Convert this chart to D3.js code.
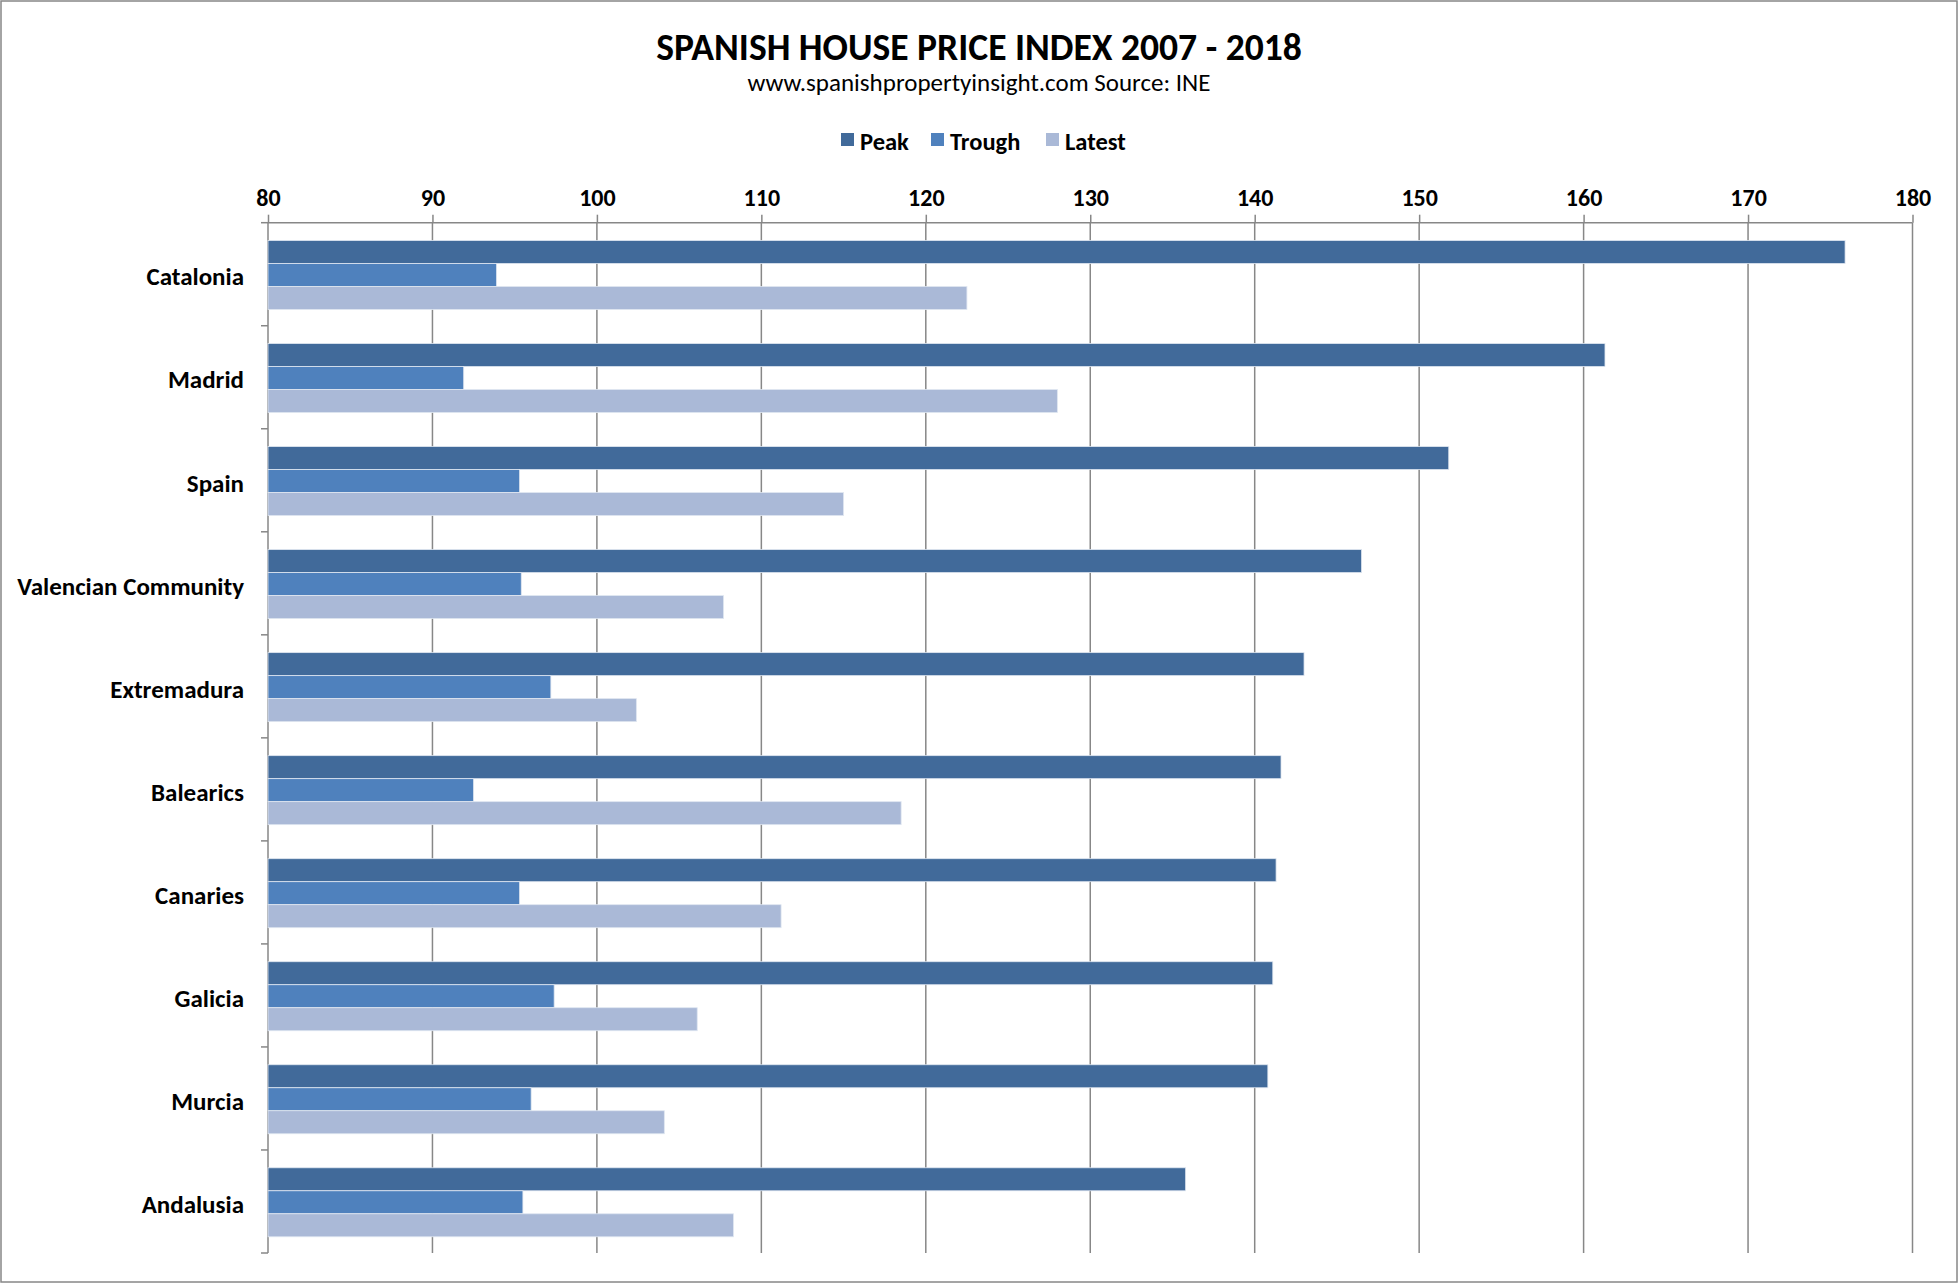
<!DOCTYPE html>
<html><head><meta charset="utf-8">
<script src="https://cdn.jsdelivr.net/npm/d3@7"></script>
<style>
html,body{margin:0;padding:0;background:#fff;}
svg{display:block;}
text{font-family:Carlito, Calibri, Lato, "Open Sans", sans-serif;}
</style></head>
<body>
<script>
const categories = ["Catalonia","Madrid","Spain","Valencian Community","Extremadura","Balearics","Canaries","Galicia","Murcia","Andalusia"];
const series = ["Peak","Trough","Latest"];
const peak   = [175.9,161.3,151.8,146.5,143.0,141.6,141.3,141.1,140.8,135.8];
const trough = [93.9, 91.9, 95.3, 95.4, 97.2, 92.5, 95.3, 97.4, 96.0, 95.5];
const latest = [122.5,128.0,115.0,107.7,102.4,118.5,111.2,106.1,104.1,108.3];
const xTicks = [80,90,100,110,120,130,140,150,160,170,180];
const colors = {Peak:"#416A9A", Trough:"#4F81BD", Latest:"#AAB9D7"};
const title = "SPANISH HOUSE PRICE INDEX 2007 - 2018";
const subtitle = "www.spanishpropertyinsight.com Source: INE";

(function(){
const W = 1959, H = 1284;
const svg = d3.select("body").append("svg").attr("width", W).attr("height", H);

svg.append("rect").attr("x",1).attr("y",1).attr("width",1956).attr("height",1281)
  .attr("fill","#fff").attr("stroke","#878787").attr("stroke-width",1.5);

const pL = 268, pR = 1912.5, pT = 222.7, pB = 1253;
const x = d3.scaleLinear().domain([80,180]).range([pL,pR]);
const y = d3.scaleBand().domain(categories).range([pT,pB]).padding(0);
const ys = d3.scaleBand().domain(series).range([0,y.bandwidth()]).paddingInner(0).paddingOuter(0.74);

svg.append("text").attr("x",979).attr("y",60).attr("text-anchor","middle")
  .attr("font-size",37.6).attr("font-weight","bold").attr("fill","#000").text(title);
svg.append("text").attr("x",979).attr("y",91).attr("text-anchor","middle")
  .attr("font-size",25).attr("fill","#000").text(subtitle);

const legX = [841, 931, 1046];
const leg = svg.append("g");
series.forEach((s,i)=>{
  leg.append("rect").attr("x",legX[i]).attr("y",133).attr("width",13).attr("height",13).attr("fill",colors[s]);
  leg.append("text").attr("x",legX[i]+19).attr("y",149.5).attr("font-size",24.5).attr("font-weight","bold").text(s);
});

const grid = svg.append("g");
grid.selectAll("line").data(xTicks.slice(1)).join("line")
  .attr("x1",d=>x(d)).attr("x2",d=>x(d)).attr("y1",pT).attr("y2",pB)
  .attr("stroke","#878787").attr("stroke-width",1.5);

const xAxis = d3.axisTop(x).tickValues(xTicks).tickSize(8).tickPadding(9).tickFormat(d3.format("d"));
const gx = svg.append("g").attr("transform",`translate(0,${pT})`).call(xAxis);
gx.select(".domain").attr("stroke","#878787").attr("stroke-width",1.5).attr("d",`M${pL},0H${pR}`);
gx.selectAll(".tick line").attr("stroke","#878787").attr("stroke-width",1.5);
gx.selectAll(".tick text").attr("font-size",24).attr("font-weight","bold").attr("fill","#000")
  .style("font-family","Carlito, Calibri, Lato, sans-serif");

const gy = svg.append("g").attr("transform",`translate(${pL},0)`);
gy.append("line").attr("x1",0).attr("x2",0).attr("y1",pT).attr("y2",pB).attr("stroke","#878787").attr("stroke-width",1.5);
const catBounds = categories.map(c=>y(c)).concat([pB]);
gy.selectAll("line.t").data(catBounds).join("line").attr("class","t")
  .attr("x1",-7).attr("x2",0).attr("y1",d=>d).attr("y2",d=>d)
  .attr("stroke","#878787").attr("stroke-width",1.5);
gy.selectAll("text").data(categories).join("text")
  .attr("x",-24).attr("y",d=>y(d)+y.bandwidth()/2+2.5).attr("dy","0.35em")
  .attr("text-anchor","end").attr("font-size",25).attr("font-weight","bold").attr("fill","#000").text(d=>d);

const data = categories.map((c,i)=>({cat:c, vals:[["Peak",peak[i]],["Trough",trough[i]],["Latest",latest[i]]]}));
const groups = svg.append("g").selectAll("g").data(data).join("g")
  .attr("transform",d=>`translate(0,${y(d.cat)})`);
groups.selectAll("rect").data(d=>d.vals).join("rect")
  .attr("x",x(80)).attr("y",d=>ys(d[0])+0.8).attr("height",ys.bandwidth())
  .attr("width",d=>x(d[1])-x(80)).attr("fill",d=>colors[d[0]])
  .attr("stroke","#dfe6f0").attr("stroke-width",0.8);
})();
</script>
</body></html>
